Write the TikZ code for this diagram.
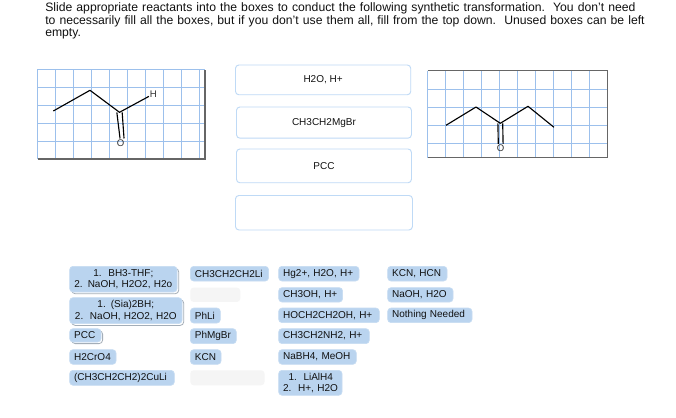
\documentclass[tikz,border=0pt]{standalone}
\usepackage{fontspec}
\setmainfont{Liberation Sans}
\definecolor{chipfill}{HTML}{BAD4EF}
\definecolor{chipedge}{HTML}{C6DCF2}
\definecolor{gridblue}{HTML}{9CC0EC}
\definecolor{gridedge}{HTML}{666666}
\definecolor{shadowedge}{HTML}{A4AEB8}
\definecolor{boxedge}{HTML}{BFDAF6}
\definecolor{emptychip}{HTML}{F5F5F5}
\definecolor{inktext}{HTML}{111111}
\tikzset{
  x=0.75pt,y=-0.75pt,
  basetext/.style={font=\fontsize{7.5pt}{8.6pt}\selectfont,text=inktext},
  chip/.style={basetext,anchor=north west,draw=chipedge,fill=chipfill,rounded corners=2.6pt,inner xsep=3.4pt,inner ysep=0pt,line width=.5pt},
  emptyslot/.style={anchor=north west,draw=none,fill=emptychip,rounded corners=2.6pt,inner sep=0pt},
  stackshadow/.style={anchor=north west,draw=shadowedge,fill=white,rounded corners=2.6pt,inner sep=0pt,line width=.6pt},
  dropbox/.style={basetext,anchor=north west,draw=boxedge,fill=white,rounded corners=2.6pt,inner sep=0pt,line width=.7pt,align=center},
  gridline/.style={draw=gridblue,line width=.85pt},
  gridframe/.style={draw=gridedge,line width=.8pt},
  bond/.style={draw=black,line width=.85pt},
  atom/.style={font=\fontsize{7.2pt}{8pt}\selectfont,text=black!80,inner sep=.5pt}
}
% name, x1, y1, x2, y2, alignment, text
\newcommand{\chipat}[7]{%
  \pgfmathsetmacro{\chipw}{(#4-#2)*0.75}%
  \pgfmathsetmacro{\chiph}{(#5-#3)*0.75}%
  \pgfmathsetmacro{\chiptw}{(#4-#2)*0.75-6.8}%
  \node[chip,minimum width=\chipw pt,minimum height=\chiph pt,text width=\chiptw pt,align=#6] (#1) at (#2,#3) {#7};}
\newcommand{\emptyat}[5]{%
  \pgfmathsetmacro{\chipw}{(#4-#2)*0.75}%
  \pgfmathsetmacro{\chiph}{(#5-#3)*0.75}%
  \node[emptyslot,minimum width=\chipw pt,minimum height=\chiph pt] (#1) at (#2,#3) {};}
\newcommand{\shadowat}[5]{%
  \pgfmathsetmacro{\chipw}{(#4-#2)*0.75}%
  \pgfmathsetmacro{\chiph}{(#5-#3)*0.75}%
  \node[stackshadow,minimum width=\chipw pt,minimum height=\chiph pt] (#1) at (#2,#3) {};}
\newcommand{\dropat}[6]{%
  \pgfmathsetmacro{\chipw}{(#4-#2)*0.75}%
  \pgfmathsetmacro{\chiph}{(#5-#3)*0.75}%
  \node[dropbox,minimum width=\chipw pt,minimum height=\chiph pt] (#1) at (#2,#3) {#6};}
\begin{document}
\begin{tikzpicture}
\useasboundingbox (0,0) rectangle (676,418);
\fill[white] (0,0) rectangle (676,418);

% instructions
\node[basetext,anchor=north west,inner sep=0pt,text width=490pt,align=left,font=\fontsize{9.15pt}{9.4pt}\selectfont] (intro) at (45,2.8)
 {Slide appropriate reactants into the boxes to conduct the following synthetic transformation.\ \ You don't need\\
  to necessarily fill all the boxes, but if you don't use them all, fill from the top down.\ \ Unused boxes can be left\\
  empty.};

% left grid
\foreach \gx in {55.5,73.5,91.5,109.5,127.5,145.5,163.5,181.5,199.5}
  \draw[gridline] (\gx,69.5) -- (\gx,159);
\foreach \gy in {87.5,105.5,123.5,141.5}
  \draw[gridline] (37.5,\gy) -- (205,\gy);
\draw[gridline] (37.5,159) -- (37.5,69.5) -- (205,69.5);
\draw[gridframe] (37.5,159) -- (205,159) -- (205,69.5);

% right grid
\foreach \gx in {445.5,463.5,481.5,499.5,517.5,535.5,553.5,571.5,589.5}
  \draw[gridline] (\gx,70.5) -- (\gx,157.5);
\foreach \gy in {89.5,107.5,125.5,143.5}
  \draw[gridline] (427.5,\gy) -- (607.5,\gy);
\draw[gridline] (427.5,70.5) -- (427.5,157.5);
\draw[gridframe] (427.5,70.5) -- (607.5,70.5) -- (607.5,157.5) -- (427.5,157.5);

% left molecule
\node[atom] (hatom) at (153.3,94) {H};
\node[atom] (oleft) at (120.7,142.8) {O};
\coordinate (la) at (53.3,111);
\coordinate (lb) at (90,90.3);
\coordinate (lc) at (119.5,112.3);
\draw[bond,line join=round] (la) -- (lb) -- (lc) -- (hatom);
\draw[bond] ([xshift=-2pt]lc) -- ([xshift=-.5pt]oleft.north);
\draw[bond] ([xshift=2pt]lc) -- ([xshift=2.5pt]oleft.north);

% right molecule
\node[atom] (oright) at (500.7,148.3) {O};
\coordinate (ra) at (446,125.3);
\coordinate (rb) at (476,107);
\coordinate (rc) at (500.3,123.3);
\coordinate (rd) at (528,106.3);
\coordinate (re) at (554,127.3);
\draw[bond,line join=round] (ra) -- (rb) -- (rc) -- (rd) -- (re);
\draw[bond] ([xshift=-1.8pt]rc) -- ([xshift=-1.8pt]oright.north);
\draw[bond] ([xshift=1.8pt]rc) -- ([xshift=1.8pt]oright.north);

% drop boxes
\dropat{dropa}{235}{64.5}{410.3}{94.3}{H2O, H+}
\dropat{dropb}{236}{106.5}{411}{137.7}{CH3CH2MgBr}
\dropat{dropc}{236}{148.5}{411}{182.3}{PCC}
\dropat{dropd}{235}{195}{412}{229.5}{}

% column 1
\shadowat{shadea}{71.3}{268}{178.3}{293.3}
\chipat{pa}{69.3}{266}{176.7}{291.7}{center}{1.\ \ BH3-THF;\\2. NaOH, H2O2, H2o}
\shadowat{shadeb}{71.3}{299.3}{183.3}{325}
\chipat{pb}{69.3}{297.3}{181.7}{323.3}{center}{1. (Sia)2BH;\\2.\ \ NaOH, H2O2, H2O}
\shadowat{shadec}{71.3}{330.3}{102.2}{343.2}
\chipat{pc}{69.3}{328.3}{100.7}{341.7}{left}{PCC}
\chipat{pd}{69.3}{349.3}{115.7}{364}{left}{H2CrO4}
\chipat{pe}{69.3}{370}{174}{385}{left}{(CH3CH2CH2)2CuLi}

% column 2
\chipat{qa}{190}{266}{268.3}{280.7}{left}{CH3CH2CH2Li}
\emptyat{qb}{190}{287.3}{240}{301.7}
\chipat{qc}{190}{307.7}{220}{322.7}{left}{PhLi}
\chipat{qd}{190}{328.3}{236}{343.3}{left}{PhMgBr}
\chipat{qe}{190}{349.3}{220.7}{364}{left}{KCN}
\emptyat{qf}{190}{370}{264.3}{385}

% column 3
\chipat{ra1}{278.3}{266}{358.7}{280.7}{left}{Hg2+, H2O, H+}
\chipat{ra2}{278.3}{287.3}{342.3}{301.7}{left}{CH3OH, H+}
\chipat{ra3}{278.3}{307.7}{379}{322.3}{left}{HOCH2CH2OH, H+}
\chipat{ra4}{278.3}{328.3}{369}{343.3}{left}{CH3CH2NH2, H+}
\chipat{ra5}{278.3}{349.3}{356}{364}{left}{NaBH4, MeOH}
\chipat{ra6}{278.3}{370}{341.7}{395}{left}{\hspace*{4pt}\mbox{1.\ \ LiAlH4}\\\mbox{2.\ \ H+, H2O}}

% column 4
\chipat{sa}{387.3}{266}{446.7}{280.7}{left}{KCN, HCN}
\chipat{sb}{387.3}{287.3}{452.7}{301.7}{left}{NaOH, H2O}
\chipat{sc}{387.3}{307.7}{471.7}{322.3}{left}{Nothing Needed}
\end{tikzpicture}
\end{document}
